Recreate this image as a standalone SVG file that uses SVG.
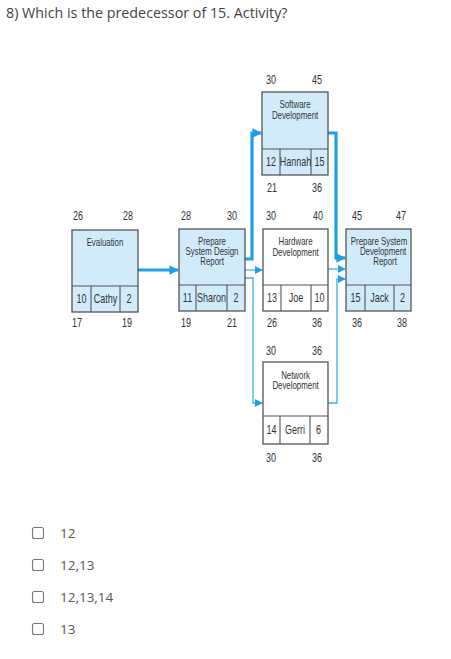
<svg xmlns="http://www.w3.org/2000/svg" width="451" height="659" viewBox="0 0 451 659">
<defs>
<marker id="ah" viewBox="0 0 10 10" refX="9" refY="5" markerWidth="3" markerHeight="3" orient="auto" markerUnits="strokeWidth"><path d="M0,0 L10,5 L0,10 z" fill="#1ea0e6"/></marker>
<marker id="ahs" viewBox="0 0 10 10" refX="9" refY="5" markerWidth="6" markerHeight="6" orient="auto" markerUnits="strokeWidth"><path d="M0,0 L10,5 L0,10 z" fill="#1ea0e6"/></marker>
<style>
.bx{stroke:#555;stroke-width:1.3}
.blue{fill:#d2ebfa}
.white{fill:#fff}
.ln{stroke:#555;stroke-width:1.1}
.t{font-family:"Liberation Sans",sans-serif;fill:#333;text-anchor:middle;transform-box:fill-box;transform-origin:center;transform:scaleX(0.75)}
.n{font-size:12px}
.l{font-size:10.5px}
.c{font-size:12px}
.thick{fill:none;stroke:#1ea0e6;stroke-width:3.2;marker-end:url(#ah)}
.thin{fill:none;stroke:#3ab0ee;stroke-width:1.3;marker-end:url(#ahs)}
.q{font-family:"Open Sans",sans-serif;font-size:14.3px;fill:#444}
.o{font-family:"Open Sans",sans-serif;font-size:13.5px;fill:#555}
.cb{fill:#fff;stroke:#777;stroke-width:1.1}
</style>
</defs>
<rect width="451" height="659" fill="#fff"/>
<text class="q" x="6" y="18">8)  Which is the predecessor of 15. Activity?</text>

<g id="connectors">
<path class="thick" d="M138,270 H178"/>
<path class="thick" d="M245,259 H252 V133 H261"/>
<path class="thick" d="M328,133 H336 V258 H345"/>
<path class="thin" d="M245,270 H262"/>
<path class="thin" d="M328,269 H345"/>
<path class="thin" d="M245,278 H253 V403 H262"/>
<path class="thin" d="M328,403 H337 V279 H345"/>
</g>

<g id="software">
<rect class="bx blue" x="262" y="92" width="66" height="83"/>
<line class="ln" x1="262" y1="149" x2="328" y2="149"/>
<line class="ln" x1="280" y1="149" x2="280" y2="175"/>
<line class="ln" x1="311" y1="149" x2="311" y2="175"/>
<text class="t l" x="295" y="108">Software</text>
<text class="t l" x="295" y="119">Development</text>
<text class="t c" x="271" y="166">12</text>
<text class="t c" x="295.5" y="166">Hannah</text>
<text class="t c" x="319.5" y="166">15</text>
<text class="t n" x="271" y="84">30</text>
<text class="t n" x="317" y="84">45</text>
<text class="t n" x="272" y="192">21</text>
<text class="t n" x="317" y="192">36</text>
</g>

<g id="evaluation">
<rect class="bx blue" x="72" y="230" width="66" height="82"/>
<line class="ln" x1="72" y1="286" x2="138" y2="286"/>
<line class="ln" x1="91" y1="286" x2="91" y2="312"/>
<line class="ln" x1="120" y1="286" x2="120" y2="312"/>
<text class="t l" x="105" y="246">Evaluation</text>
<text class="t c" x="81.5" y="303">10</text>
<text class="t c" x="105.5" y="303">Cathy</text>
<text class="t c" x="129" y="303">2</text>
<text class="t n" x="78" y="220">26</text>
<text class="t n" x="128" y="220">28</text>
<text class="t n" x="77" y="327">17</text>
<text class="t n" x="127" y="327">19</text>
</g>

<g id="prepare-design">
<rect class="bx blue" x="179" y="229" width="66" height="82"/>
<line class="ln" x1="179" y1="285" x2="245" y2="285"/>
<line class="ln" x1="196" y1="285" x2="196" y2="311"/>
<line class="ln" x1="227" y1="285" x2="227" y2="311"/>
<text class="t l" x="212" y="245">Prepare</text>
<text class="t l" x="212" y="255">System Design</text>
<text class="t l" x="212" y="265">Report</text>
<text class="t c" x="187.5" y="302">11</text>
<text class="t c" x="211.5" y="302">Sharon</text>
<text class="t c" x="236" y="302">2</text>
<text class="t n" x="186" y="220">28</text>
<text class="t n" x="232" y="220">30</text>
<text class="t n" x="186" y="327">19</text>
<text class="t n" x="232" y="327">21</text>
</g>

<g id="hardware">
<rect class="bx white" x="263" y="229" width="65" height="82"/>
<line class="ln" x1="263" y1="285" x2="328" y2="285"/>
<line class="ln" x1="281" y1="285" x2="281" y2="311"/>
<line class="ln" x1="311" y1="285" x2="311" y2="311"/>
<text class="t l" x="295.5" y="245">Hardware</text>
<text class="t l" x="295.5" y="256">Development</text>
<text class="t c" x="272" y="302">13</text>
<text class="t c" x="296" y="302">Joe</text>
<text class="t c" x="319.5" y="302">10</text>
<text class="t n" x="271" y="220">30</text>
<text class="t n" x="318" y="220">40</text>
<text class="t n" x="272" y="327">26</text>
<text class="t n" x="317" y="327">36</text>
</g>

<g id="prepare-report">
<rect class="bx blue" x="346" y="229" width="65" height="82"/>
<line class="ln" x1="346" y1="285" x2="411" y2="285"/>
<line class="ln" x1="365" y1="285" x2="365" y2="311"/>
<line class="ln" x1="394" y1="285" x2="394" y2="311"/>
<text class="t l" x="379" y="245">Prepare System</text>
<text class="t l" x="383" y="255">Development</text>
<text class="t l" x="385" y="265">Report</text>
<text class="t c" x="355.5" y="302">15</text>
<text class="t c" x="379.5" y="302">Jack</text>
<text class="t c" x="402.5" y="302">2</text>
<text class="t n" x="357" y="220">45</text>
<text class="t n" x="401" y="220">47</text>
<text class="t n" x="357" y="327">36</text>
<text class="t n" x="402" y="327">38</text>
</g>

<g id="network">
<rect class="bx white" x="263" y="362" width="65" height="82"/>
<line class="ln" x1="263" y1="416" x2="328" y2="416"/>
<line class="ln" x1="280" y1="416" x2="280" y2="444"/>
<line class="ln" x1="310" y1="416" x2="310" y2="444"/>
<text class="t l" x="295.5" y="379">Network</text>
<text class="t l" x="295.5" y="389">Development</text>
<text class="t c" x="271.5" y="434">14</text>
<text class="t c" x="295" y="434">Gerri</text>
<text class="t c" x="318.5" y="434">6</text>
<text class="t n" x="271" y="355">30</text>
<text class="t n" x="317" y="355">36</text>
<text class="t n" x="271" y="462">30</text>
<text class="t n" x="317" y="462">36</text>
</g>

<g id="options">
<rect class="cb" x="32.5" y="527.5" width="11" height="11" rx="2"/>
<text class="o" x="60" y="538">12</text>
<rect class="cb" x="32.5" y="559.5" width="11" height="11" rx="2"/>
<text class="o" x="60" y="570">12,13</text>
<rect class="cb" x="32.5" y="591.5" width="11" height="11" rx="2"/>
<text class="o" x="60" y="602">12,13,14</text>
<rect class="cb" x="32.5" y="623.5" width="11" height="11" rx="2"/>
<text class="o" x="60" y="634">13</text>
</g>
</svg>
